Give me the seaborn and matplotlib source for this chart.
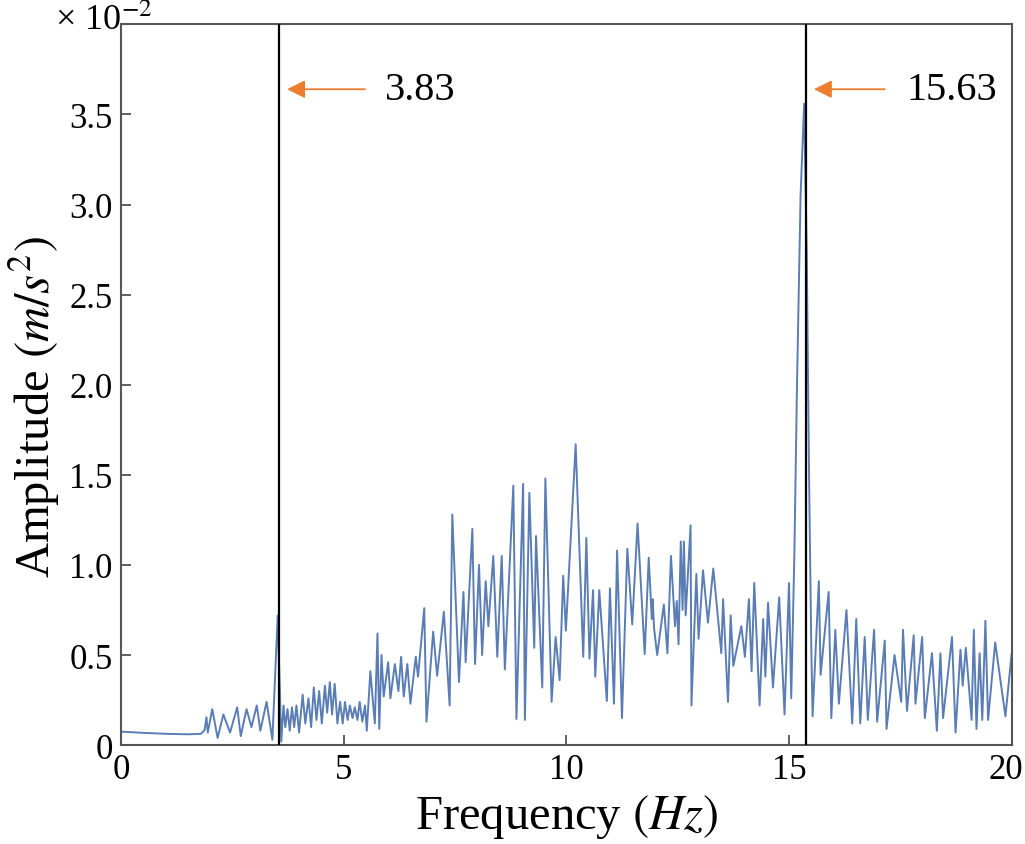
import matplotlib
matplotlib.use("Agg")
import matplotlib.pyplot as plt
import matplotlib.transforms as mtransforms
import pandas as pd
import seaborn as sns

# spectrum (amplitude in units of 1e-2 m/s^2)
freq = [0.00, 0.50, 1.00, 1.50, 1.80, 1.88, 1.92, 1.95, 2.05, 2.17,
        2.30, 2.45, 2.61, 2.69, 2.82, 2.93, 3.05, 3.13, 3.27, 3.40,
        3.52, 3.60, 3.65, 3.69, 3.74, 3.79, 3.84, 3.89, 3.94, 4.00,
        4.08, 4.14, 4.21, 4.27, 4.33, 4.39, 4.45, 4.51, 4.58, 4.63,
        4.69, 4.74, 4.80, 4.86, 4.92, 4.98, 5.03, 5.09, 5.14, 5.20,
        5.25, 5.31, 5.36, 5.42, 5.48, 5.52, 5.60, 5.70, 5.76, 5.80,
        5.85, 5.90, 6.00, 6.05, 6.15, 6.23, 6.29, 6.35, 6.43, 6.50,
        6.62, 6.67, 6.81, 6.86, 7.01, 7.10, 7.25, 7.38, 7.44, 7.59,
        7.69, 7.74, 7.89, 7.95, 8.04, 8.11, 8.19, 8.25, 8.36, 8.45,
        8.55, 8.62, 8.81, 8.88, 9.03, 9.07, 9.17, 9.28, 9.32, 9.46,
        9.53, 9.67, 9.76, 9.85, 9.93, 9.99, 10.21, 10.38, 10.45, 10.52,
        10.60, 10.65, 10.74, 10.91, 10.98, 11.07, 11.14, 11.25, 11.37, 11.48,
        11.60, 11.76, 11.85, 11.92, 11.94, 11.97, 12.04, 12.19, 12.27, 12.35,
        12.44, 12.48, 12.52, 12.57, 12.61, 12.64, 12.68, 12.79, 12.81, 12.92,
        12.97, 13.07, 13.18, 13.30, 13.48, 13.52, 13.63, 13.69, 13.75, 13.93,
        14.01, 14.10, 14.16, 14.22, 14.34, 14.42, 14.47, 14.53, 14.64, 14.78,
        14.90, 15.00, 15.05, 15.12, 15.18, 15.26, 15.34, 15.40, 15.45, 15.50,
        15.53, 15.67, 15.71, 15.89, 15.95, 16.04, 16.12, 16.29, 16.42, 16.51,
        16.60, 16.70, 16.77, 16.91, 16.98, 17.15, 17.19, 17.37, 17.52, 17.56,
        17.65, 17.80, 17.84, 17.99, 18.05, 18.21, 18.32, 18.40, 18.46, 18.66,
        18.74, 18.85, 18.90, 18.97, 19.10, 19.15, 19.21, 19.28, 19.34, 19.41,
        19.47, 19.63, 19.86, 20.00]
amp = [0.075, 0.068, 0.063, 0.060, 0.063, 0.085, 0.155, 0.070, 0.200, 0.040,
       0.170, 0.070, 0.210, 0.050, 0.200, 0.100, 0.220, 0.080, 0.240, 0.030,
       0.720, 0.020, 0.220, 0.100, 0.200, 0.080, 0.210, 0.100, 0.220, 0.070,
       0.280, 0.120, 0.260, 0.100, 0.320, 0.140, 0.300, 0.120, 0.330, 0.180,
       0.350, 0.170, 0.340, 0.120, 0.240, 0.120, 0.240, 0.140, 0.220, 0.150,
       0.210, 0.140, 0.240, 0.130, 0.220, 0.080, 0.410, 0.120, 0.620, 0.090,
       0.500, 0.270, 0.460, 0.260, 0.450, 0.300, 0.490, 0.270, 0.450, 0.230,
       0.490, 0.380, 0.760, 0.130, 0.630, 0.385, 0.740, 0.220, 1.280, 0.350,
       0.850, 0.460, 1.200, 0.450, 1.000, 0.500, 0.910, 0.660, 1.050, 0.490,
       1.050, 0.420, 1.440, 0.145, 1.450, 0.140, 1.400, 0.540, 1.160, 0.320,
       1.480, 0.240, 0.600, 0.360, 0.940, 0.635, 1.670, 0.490, 1.150, 0.480,
       0.860, 0.380, 0.860, 0.245, 0.870, 0.230, 1.080, 0.150, 1.090, 0.670,
       1.230, 0.505, 1.040, 0.700, 0.810, 0.650, 0.500, 0.780, 0.510, 1.050,
       0.660, 0.800, 0.560, 1.130, 0.750, 1.130, 0.720, 1.220, 0.220, 0.950,
       0.590, 0.970, 0.680, 0.980, 0.510, 0.810, 0.240, 0.720, 0.440, 0.660,
       0.490, 0.810, 0.410, 0.900, 0.220, 0.700, 0.380, 0.790, 0.320, 0.820,
       0.170, 0.900, 0.260, 1.050, 2.000, 3.050, 3.560, 2.700, 1.500, 0.550,
       0.160, 0.910, 0.390, 0.850, 0.150, 0.640, 0.230, 0.750, 0.120, 0.700,
       0.120, 0.600, 0.140, 0.640, 0.130, 0.580, 0.090, 0.500, 0.240, 0.640,
       0.190, 0.610, 0.230, 0.600, 0.150, 0.510, 0.080, 0.510, 0.150, 0.600,
       0.070, 0.530, 0.330, 0.540, 0.140, 0.640, 0.090, 0.510, 0.140, 0.690,
       0.140, 0.570, 0.160, 0.510]

marker_freq = [3.56, 15.39]
marker_text = ["3.83", "15.63"]
arrow_tail = [5.48, 17.15]
text_x = [5.93, 17.64]

x_ticks = [0, 5, 10, 15, 20]
y_ticks = [0, 0.5, 1.0, 1.5, 2.0, 2.5, 3.0, 3.5]
y_labels = ["0", "0.5", "1.0", "1.5", "2.0", "2.5", "3.0", "3.5"]

sns.set_theme(style="ticks")
plt.rcParams['font.family'] = ['Liberation Serif', 'DejaVu Serif']
plt.rcParams['mathtext.fontset'] = 'stix'
plt.rcParams['text.color'] = 'black'
plt.rcParams['axes.labelcolor'] = 'black'
plt.rcParams['xtick.labelcolor'] = 'black'
plt.rcParams['ytick.labelcolor'] = 'black'

df = pd.DataFrame({'freq': freq, 'amp': amp})

fig = plt.figure(figsize=(10.25, 8.45), dpi=100)
ax = fig.add_axes([0.118, 0.117, 0.869, 0.853])

sns.lineplot(data=df, x='freq', y='amp', ax=ax, color='#5A7DB5', lw=1.4,
             estimator=None, sort=False)

arrow_y = 3.64
for f, label, tail, tx in zip(marker_freq, marker_text, arrow_tail, text_x):
    ax.axvline(f, color='black', lw=1.6, zorder=3)
    ax.annotate('', xy=(f + 0.17, arrow_y), xytext=(tail, arrow_y),
                arrowprops=dict(arrowstyle='-|>', color='#ED7D31', lw=1.3,
                                mutation_scale=27, shrinkA=0, shrinkB=0))
    ax.text(tx, arrow_y, label, fontsize=29, va='center', ha='left')

ax.set_xlim(0, 20)
ax.set_ylim(0, 4.0)
ax.set_xticks(x_ticks)
ax.set_yticks(y_ticks)
ax.set_yticklabels(y_labels)
ax.tick_params(direction='in', length=7, width=1.2, labelsize=25,
               color='#444444', pad=6)

# last x label sits a little to the left so it stays inside the figure
last = ax.get_xticklabels()[-1]
last.set_transform(mtransforms.offset_copy(last.get_transform(), fig=fig,
                                           x=-6, y=0, units='dots'))

for side in ['left', 'right', 'top', 'bottom']:
    ax.spines[side].set_color('#555555')
    ax.spines[side].set_linewidth(1.5)

ax.set_xlabel('Frequency $(Hz)$', fontsize=35, labelpad=4)
ax.set_ylabel('Amplitude $(m/s^2)$', fontsize=35)
ax.yaxis.set_label_coords(-0.066, 0.47)

fig.text(55 / 1025, 1 - 30 / 845, '× 10$^{-2}$', fontsize=26,
         ha='left', va='baseline')

fig.savefig('out.png', dpi=100)
